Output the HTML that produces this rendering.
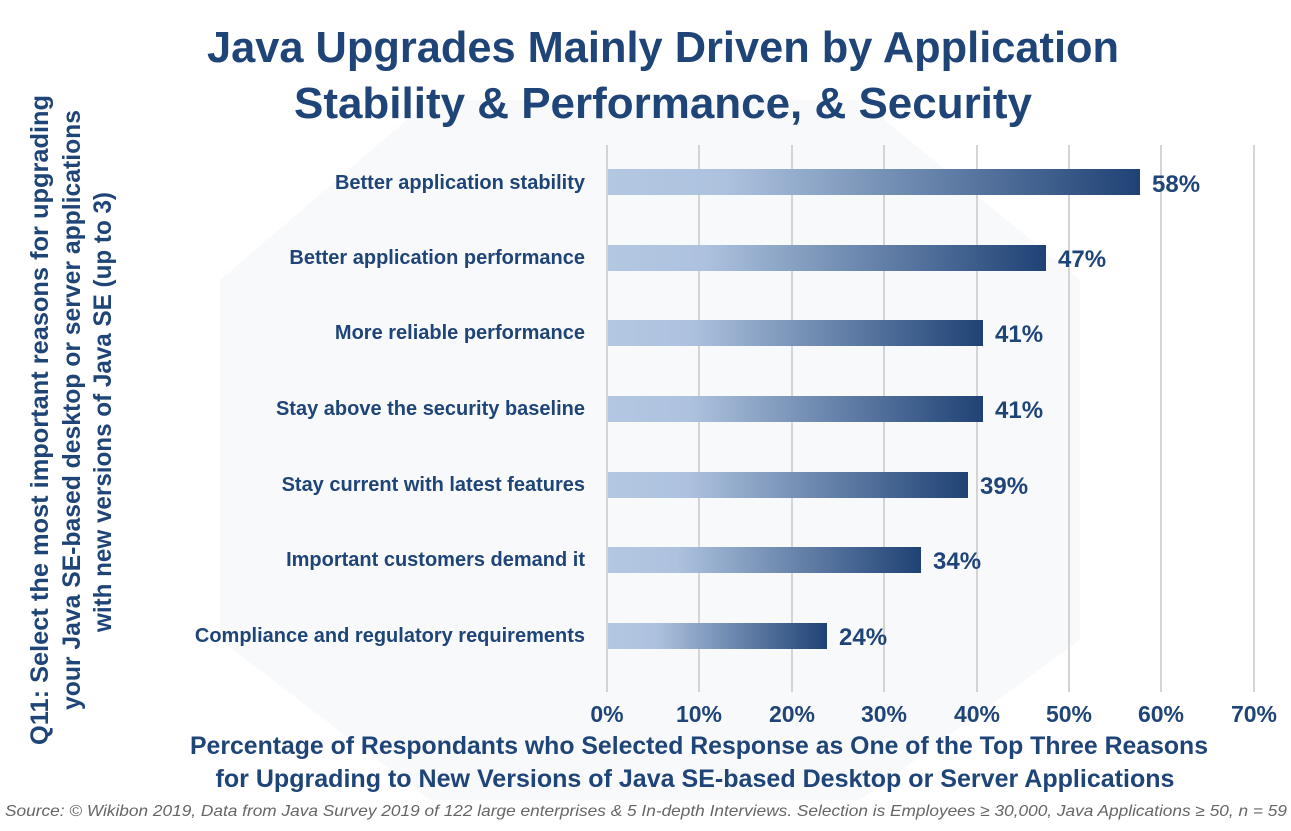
<!DOCTYPE html>
<html><head><meta charset="utf-8"><style>body{margin:0;background:#fff}svg{display:block}</style></head><body>
<svg width="1291" height="831" viewBox="0 0 1291 831" xmlns="http://www.w3.org/2000/svg" font-family="'Liberation Sans', sans-serif" font-weight="bold" fill="#1f4477">
<defs>
<linearGradient id="g" x1="0" x2="1" y1="0" y2="0">
<stop offset="0" stop-color="#b3c7e2"/><stop offset="0.22" stop-color="#adc2de"/><stop offset="1" stop-color="#1f4275"/>
</linearGradient>
</defs>
<polygon points="430,100 860,100 1080,280 1080,640 860,800 430,800 220,640 220,280" fill="#f8f9fb"/>
<g stroke="#d4d4d4" stroke-width="2">
<line x1="607" y1="145" x2="607" y2="692"/><line x1="699" y1="145" x2="699" y2="692"/><line x1="792" y1="145" x2="792" y2="692"/><line x1="884" y1="145" x2="884" y2="692"/><line x1="977" y1="145" x2="977" y2="692"/><line x1="1069" y1="145" x2="1069" y2="692"/><line x1="1161" y1="145" x2="1161" y2="692"/><line x1="1254" y1="145" x2="1254" y2="692"/>
</g>
<text x="663" y="62" text-anchor="middle" font-size="44" textLength="912" lengthAdjust="spacingAndGlyphs">Java Upgrades Mainly Driven by Application</text>
<text x="663" y="118" text-anchor="middle" font-size="44" textLength="738" lengthAdjust="spacingAndGlyphs">Stability &amp; Performance, &amp; Security</text>
<g>
<rect x="608" y="169" width="532" height="26" fill="url(#g)"/>
<rect x="608" y="245" width="438" height="26" fill="url(#g)"/>
<rect x="608" y="320" width="375" height="26" fill="url(#g)"/>
<rect x="608" y="396" width="375" height="26" fill="url(#g)"/>
<rect x="608" y="472" width="360" height="26" fill="url(#g)"/>
<rect x="608" y="547" width="313" height="26" fill="url(#g)"/>
<rect x="608" y="623" width="219" height="26" fill="url(#g)"/>
</g>
<g font-size="20" text-anchor="end">
<text x="585" y="189">Better application stability</text>
<text x="585" y="264">Better application performance</text>
<text x="585" y="339">More reliable performance</text>
<text x="585" y="415">Stay above the security baseline</text>
<text x="585" y="491">Stay current with latest features</text>
<text x="585" y="566">Important customers demand it</text>
<text x="585" y="642">Compliance and regulatory requirements</text>
</g>
<g font-size="24">
<text x="1152" y="192">58%</text>
<text x="1058" y="267">47%</text>
<text x="995" y="342">41%</text>
<text x="995" y="418">41%</text>
<text x="980" y="494">39%</text>
<text x="933" y="569">34%</text>
<text x="839" y="645">24%</text>
</g>
<g font-size="23" text-anchor="middle">
<text x="607" y="722">0%</text><text x="699" y="722">10%</text><text x="792" y="722">20%</text><text x="884" y="722">30%</text><text x="977" y="722">40%</text><text x="1069" y="722">50%</text><text x="1161" y="722">60%</text><text x="1254" y="722">70%</text>
</g>
<text x="699" y="754" text-anchor="middle" font-size="25" textLength="1018" lengthAdjust="spacingAndGlyphs">Percentage of Respondants who Selected Response as One of the Top Three Reasons</text>
<text x="695" y="787" text-anchor="middle" font-size="25" textLength="959" lengthAdjust="spacingAndGlyphs">for Upgrading to New Versions of Java SE-based Desktop or Server Applications</text>
<text x="646" y="816" text-anchor="middle" font-size="16" font-weight="normal" font-style="italic" fill="#666" textLength="1282" lengthAdjust="spacingAndGlyphs">Source: © Wikibon 2019, Data from Java Survey 2019 of 122 large enterprises &amp; 5 In-depth Interviews. Selection is Employees ≥ 30,000, Java Applications ≥ 50, n = 59</text>
<g font-size="25" text-anchor="middle">
<text transform="translate(48,420) rotate(-90)" textLength="650" lengthAdjust="spacingAndGlyphs">Q11: Select the most important reasons for upgrading</text>
<text transform="translate(80,410) rotate(-90)" textLength="600" lengthAdjust="spacingAndGlyphs">your Java SE-based desktop or server applications</text>
<text transform="translate(111,412) rotate(-90)" textLength="440" lengthAdjust="spacingAndGlyphs">with new versions of Java SE (up to 3)</text>
</g>
</svg>
</body></html>
